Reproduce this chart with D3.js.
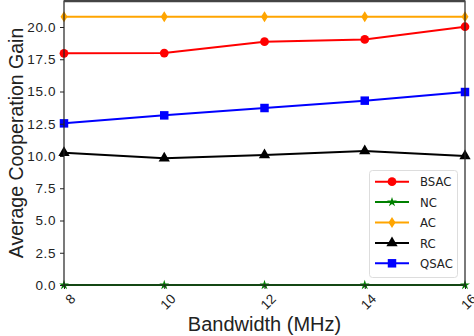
<!DOCTYPE html>
<html><head><meta charset="utf-8">
<script src="https://cdn.jsdelivr.net/npm/d3@7"></script>
<style>body{margin:0;background:#fff}svg{display:block}</style>
</head><body>
<svg id="c" width="474" height="336"></svg>
<script>
const bandwidth = [8, 10, 12, 14, 16];
const BSAC = [17.96, 17.98, 18.86, 19.04, 20.02];
const NC = [0, 0, 0, 0, 0];
const AC = [20.8, 20.8, 20.8, 20.8, 20.8];
const RC = [10.26, 9.82, 10.08, 10.39, 10.0];
const QSAC = [12.53, 13.15, 13.72, 14.29, 14.96];
const yTicks = [0, 2.5, 5, 7.5, 10, 12.5, 15, 17.5, 20];
const seriesNames = ["BSAC", "NC", "AC", "RC", "QSAC"];

const series = [
  {name: "BSAC", values: BSAC, color: "#ff0000", symbol: d3.symbolCircle, size: 60},
  {name: "NC", values: NC, color: "#008000", symbol: d3.symbolStar, size: 30},
  {name: "AC", values: AC, color: "#ffa500", symbol: "diamond", size: 0},
  {name: "RC", values: RC, color: "#000000", symbol: d3.symbolTriangle, size: 55},
  {name: "QSAC", values: QSAC, color: "#0000ff", symbol: d3.symbolSquare, size: 72}
];

const svg = d3.select("#c");
const L = 64, R = 465, T = 1, B = 285;
const x = d3.scaleLinear().domain([8, 16]).range([L, R]);
const y = d3.scaleLinear().domain([0, 22]).range([B, B - 22 * 12.9]);

function marker(g, s, cx, cy) {
  if (s.symbol === "diamond") {
    g.append("path").attr("d", `M${cx},${cy-5.5}L${cx+3.5},${cy}L${cx},${cy+5.5}L${cx-3.5},${cy}Z`)
      .attr("fill", s.color);
  } else {
    g.append("path").attr("d", d3.symbol().type(s.symbol).size(s.size)())
      .attr("transform", `translate(${cx},${cy})`).attr("fill", s.color);
  }
}

svg.append("clipPath").attr("id", "clip").append("rect")
  .attr("x", L - 6).attr("y", T).attr("width", R - L + 12).attr("height", B - T + 6);

const plot = svg.append("g").attr("clip-path", "url(#clip)");
const line = d3.line().x((d, i) => x(bandwidth[i])).y(d => y(d));
series.forEach(s => {
  plot.append("path").datum(s.values).attr("d", line)
    .attr("fill", "none").attr("stroke", s.color).attr("stroke-width", 2);
  s.values.forEach((v, i) => marker(plot, s, x(bandwidth[i]), y(v)));
});

svg.append("rect").attr("x", L).attr("y", T).attr("width", R - L).attr("height", B - T)
  .attr("fill", "none").attr("stroke", "#222").attr("stroke-width", 1.2);
svg.append("line").attr("x1", L).attr("x2", R).attr("y1", 1).attr("y2", 1)
  .attr("stroke", "#444").attr("stroke-width", 2.5);

const yAxis = svg.append("g").attr("transform", `translate(${L},0)`)
  .call(d3.axisLeft(y).tickValues(yTicks).tickFormat(d3.format(".1f")).tickSize(4).tickPadding(4));
yAxis.select(".domain").remove();
yAxis.selectAll("text").attr("font-family", "Liberation Sans, Arial, sans-serif")
  .attr("font-size", 13.5).attr("fill", "#222").attr("letter-spacing", "0.6px");
yAxis.selectAll("line").attr("stroke", "#222");

const xAxis = svg.append("g").attr("transform", `translate(0,${B})`)
  .call(d3.axisBottom(x).tickValues(bandwidth).tickFormat(d3.format("d")).tickSize(4));
xAxis.select(".domain").remove();
xAxis.selectAll("line").attr("stroke", "#222");
xAxis.selectAll("text")
  .attr("font-family", "Liberation Sans, Arial, sans-serif").attr("font-size", 13.5).attr("fill", "#222")
  .attr("text-anchor", "end").attr("dy", null).attr("y", 0)
  .attr("transform", "translate(5,8) rotate(-45)").attr("dominant-baseline", "hanging");

svg.append("text").attr("x", 264.5).attr("y", 331).attr("text-anchor", "middle")
  .attr("font-family", "Liberation Sans, Arial, sans-serif").attr("font-size", 20).attr("fill", "#222")
  .text("Bandwidth (MHz)");
svg.append("text").attr("transform", "translate(23,143) rotate(-90)").attr("text-anchor", "middle")
  .attr("font-family", "Liberation Sans, Arial, sans-serif").attr("font-size", 19.5).attr("fill", "#222")
  .text("Average Cooperation Gain");

const lg = svg.append("g");
lg.append("rect").attr("x", 369.5).attr("y", 170.5).attr("width", 88).attr("height", 107).attr("rx", 3)
  .attr("fill", "#fff").attr("fill-opacity", 0.85).attr("stroke", "#ddd");
series.forEach((s, i) => {
  const yy = 181.7 + i * 20.4;
  lg.append("line").attr("x1", 375).attr("x2", 409).attr("y1", yy).attr("y2", yy)
    .attr("stroke", s.color).attr("stroke-width", 2);
  marker(lg, s, 392, yy);
  lg.append("text").attr("x", 420).attr("y", yy).attr("dy", "0.36em")
    .attr("font-family", "Liberation Sans Narrow, DejaVu Sans Condensed, sans-serif").attr("font-size", 13)
    .attr("fill", "#222").text(seriesNames[i]);
});
</script>
</body></html>
